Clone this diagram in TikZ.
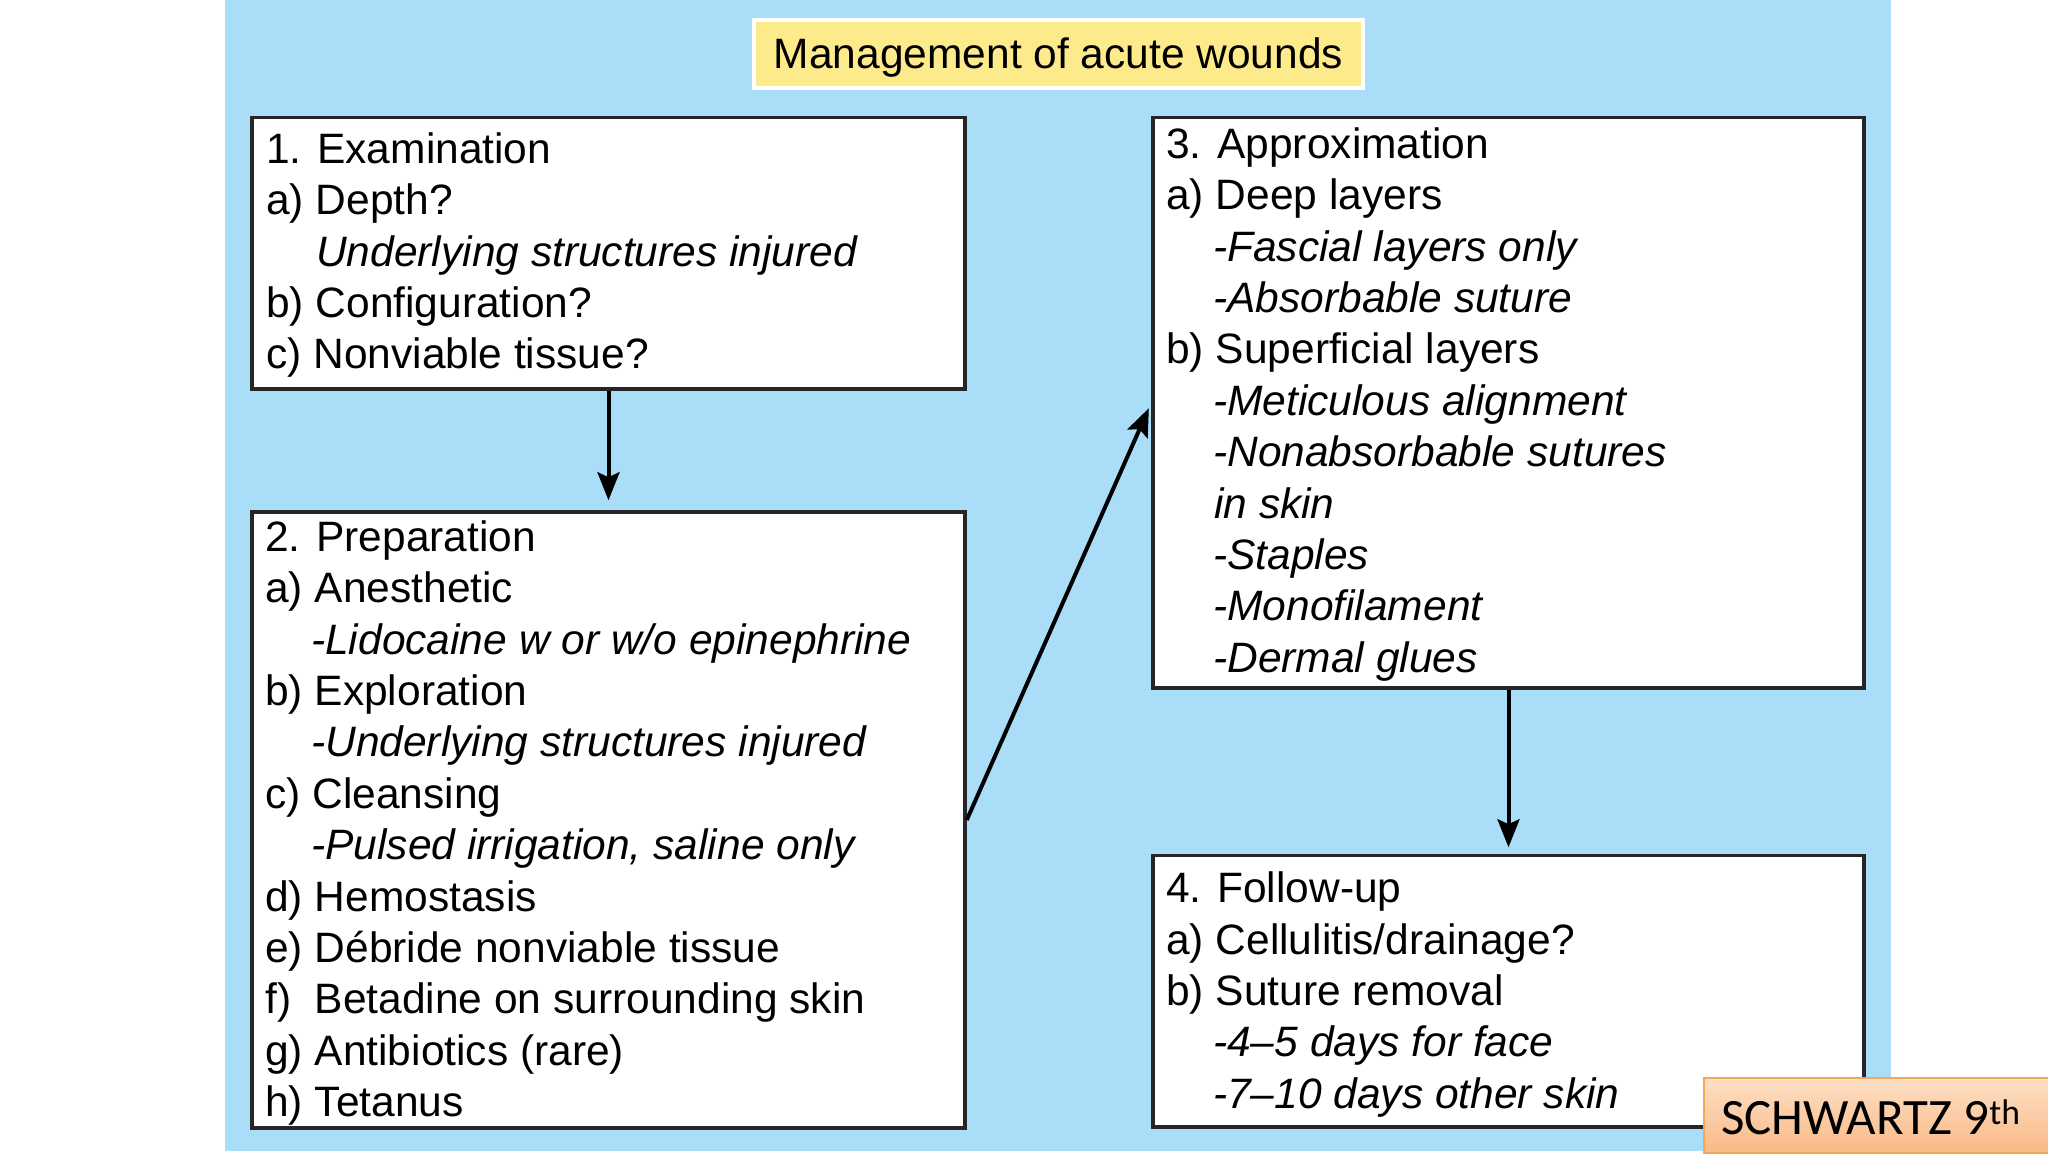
\documentclass[tikz,border=0pt]{standalone}
\usepackage{fontspec}
\setmainfont{Liberation Sans}
\newfontfamily\calib{Carlito}
\usetikzlibrary{arrows.meta,shadings}
\definecolor{bgblue}{HTML}{AADDF7}
\definecolor{titleyellow}{HTML}{FDEB8B}
\definecolor{peachtop}{HTML}{FDDFC4}
\definecolor{peachbot}{HTML}{F9BA86}
\definecolor{peachline}{HTML}{F4A55E}
\begin{document}
\begin{tikzpicture}[x=1pt,y=-1pt,
  stepbox/.style={draw=black!85, line width=3.5pt, fill=white, rectangle, inner sep=0pt},
  txt/.style={anchor=north west, inner sep=0pt, align=left, font=\fontsize{42.5}{51.4}\selectfont},
  arr/.style={-{Stealth[length=28pt,width=22pt,inset=5pt]}, line width=4pt}]
\useasboundingbox (0,0) rectangle (2048,1154);
\fill[white] (0,0) rectangle (2048,1154);
\fill[bgblue] (224.6,0) rectangle (1891,1151);
% title
\node[draw=white, line width=4pt, fill=titleyellow, minimum width=609pt, minimum height=68pt, inner sep=0pt] (title) at (1058.5,54) {};
\node[anchor=base, inner sep=0pt, font=\fontsize{42.5}{51}\selectfont] (titletxt) at (1058.5,68) {Management of acute wounds};
% boxes
\node[stepbox, minimum width=713pt, minimum height=271.5pt] (b1) at (608.5,253.25) {};
\node[stepbox, minimum width=713pt, minimum height=616pt] (b2) at (608.5,820) {};
\node[stepbox, minimum width=711pt, minimum height=570.5pt] (b3) at (1508.5,402.75) {};
\node[stepbox, minimum width=711pt, minimum height=271.5pt] (b4) at (1508.5,991.25) {};
% texts
\node[txt] (t1) at (266,123) {\rule{0pt}{40pt}1. Examination\\
a) Depth?\\
\hspace*{50pt}\textit{Underlying structures injured}\\
b) Configuration?\\
c) Nonviable tissue?};
\node[txt] (t2) at (265,511) {\rule{0pt}{40pt}2. Preparation\\
a) Anesthetic\\
\hspace*{46pt}\textit{-Lidocaine w or w/o epinephrine}\\
b) Exploration\\
\hspace*{46pt}\textit{-Underlying structures injured}\\
c) Cleansing\\
\hspace*{46pt}\textit{-Pulsed irrigation, saline only}\\
d) Hemostasis\\
e) Débride nonviable tissue\\
f)\ \ Betadine on surrounding skin\\
g) Antibiotics (rare)\\
h) Tetanus};
\node[txt] (t3) at (1166,118) {\rule{0pt}{40pt}3. Approximation\\
a) Deep layers\\
\hspace*{47pt}\textit{-Fascial layers only}\\
\hspace*{47pt}\textit{-Absorbable suture}\\
b) Superficial layers\\
\hspace*{47pt}\textit{-Meticulous alignment}\\
\hspace*{47pt}\textit{-Nonabsorbable sutures}\\
\hspace*{48pt}\textit{in skin}\\
\hspace*{47pt}\textit{-Staples}\\
\hspace*{47pt}\textit{-Monofilament}\\
\hspace*{47pt}\textit{-Dermal glues}};
\node[txt] (t4) at (1166,862.5) {\rule{0pt}{40pt}4. Follow-up\\
a) Cellulitis/drainage?\\
b) Suture removal\\
\hspace*{47pt}\textit{-4–5 days for face}\\
\hspace*{47pt}\textit{-7–10 days other skin}};
% arrows
\draw[arr, shorten >=10pt] (b1.south) -- (b2.north);
\draw[arr, shorten >=6pt] (b2.east) -- (b3.west);
\draw[arr, shorten >=6.5pt] (b3.south) -- (b4.north);
% source tag
\node[draw=peachline, line width=2pt, top color=peachtop, bottom color=peachbot, minimum width=360pt, minimum height=75pt, anchor=north west, inner sep=0pt] (src) at (1703,1077) {};
\node[anchor=base west, inner sep=0pt, font=\calib\fontsize{51}{60}\selectfont] (srctxt) at (1721,1134) {SCHWARTZ 9\textsuperscript{th}};
\end{tikzpicture}
\end{document}
